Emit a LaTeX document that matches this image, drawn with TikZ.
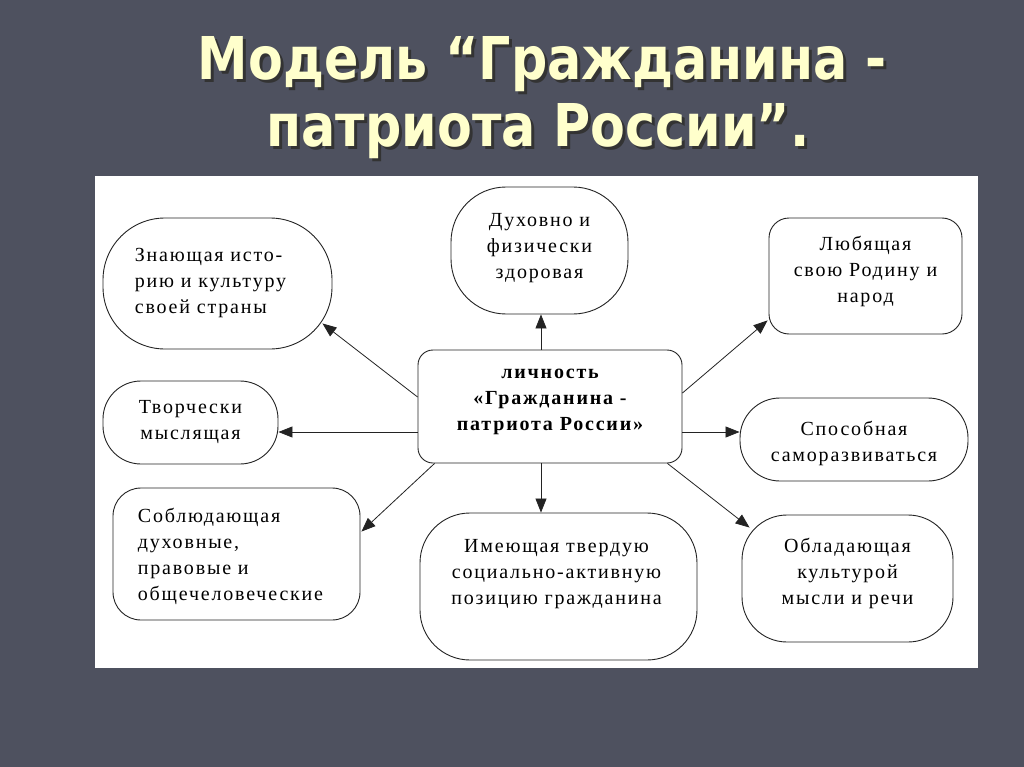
\documentclass[tikz,border=0pt]{standalone}
\usepackage{fontspec}
\setmainfont{Liberation Serif}
\newfontfamily\boxfont[LetterSpace=9]{Liberation Serif}
\newfontfamily\titlefont{DejaVu Sans}
\usetikzlibrary{arrows.meta}
\definecolor{bgcol}{RGB}{78,81,95}
\definecolor{ttlcol}{RGB}{255,255,204}
\definecolor{linecol}{RGB}{35,35,35}
\begin{document}
\begin{tikzpicture}[x=1pt,y=-1pt,
  shape box/.style={draw=linecol, line width=0.9pt, fill=white, rectangle, inner sep=0pt},
  txt/.style={font=\boxfont\fontsize{20}{26}\selectfont, align=center, inner sep=0pt, text=black},
  txtl/.style={txt, align=left},
  arr/.style={draw=linecol, line width=0.8pt, -{Triangle[length=14pt,width=11pt]}},
  ttl/.style={font=\titlefont\bfseries\fontsize{59}{67}\selectfont, inner sep=0pt, anchor=base}]
\useasboundingbox (0,0) rectangle (1024,767);
\fill[bgcol] (0,0) rectangle (1024,767);
\fill[white] (95,176) rectangle (978,668);
% title
\node[ttl, text=black!80] (t1s) at (545,83) {\scalebox{0.86}[1]{Модель “Гражданина -}};
\node[ttl, text=ttlcol] (t1) at (542,80) {\scalebox{0.86}[1]{Модель “Гражданина -}};
\node[ttl, text=black!80] (t2s) at (541,150) {\scalebox{0.86}[1]{патриота России”.}};
\node[ttl, text=ttlcol] (t2) at (538,147) {\scalebox{0.86}[1]{патриота России”.}};
% nodes
\node[shape box, minimum width=229pt, minimum height=131pt, rounded corners=62pt,
  label={[txtl, xshift=-7pt]center:{Знающая исто-\\рию и культуру\\своей страны}}] (n1) at (217.5,283.5) {};
\node[shape box, minimum width=177pt, minimum height=127pt, rounded corners=55pt,
  label={[txt, yshift=2pt]center:{Духовно и\\физически\\здоровая}}] (n2) at (539.5,250.5) {};
\node[shape box, minimum width=193pt, minimum height=116pt, rounded corners=20pt,
  label={[txt, yshift=5pt]center:{Любящая\\свою Родину и\\народ}}] (n3) at (865.5,276) {};
\node[shape box, minimum width=264pt, minimum height=113pt, rounded corners=15pt,
  label={[txt, font=\boxfont\bfseries\fontsize{20}{26}\selectfont, yshift=5pt]center:{личность\\«Гражданина -\\патриота России»}}] (c) at (550,406.5) {};
\node[shape box, minimum width=175pt, minimum height=83pt, rounded corners=38pt,
  label={[txt]center:{Творчески\\мыслящая}}] (n5) at (190.5,422.5) {};
\node[shape box, minimum width=228pt, minimum height=83pt, rounded corners=40pt,
  label={[txt, yshift=-4pt]center:{Способная\\саморазвиваться}}] (n6) at (854,439.5) {};
\node[shape box, minimum width=247pt, minimum height=132pt, rounded corners=28pt,
  label={[txtl, xshift=-6pt, yshift=-2pt]center:{Соблюдающая\\духовные,\\правовые и\\общечеловеческие}}] (n7) at (236.5,554) {};
\node[shape box, minimum width=277pt, minimum height=147pt, rounded corners=50pt,
  label={[txt, xshift=-2pt, yshift=12pt]center:{Имеющая твердую\\социально-активную\\позицию гражданина}}] (n8) at (558.5,586.5) {};
\node[shape box, minimum width=211pt, minimum height=127pt, rounded corners=45pt,
  label={[txt, yshift=5pt]center:{Обладающая\\культурой\\мысли и речи}}] (n9) at (847.5,578.5) {};
% connectors
\draw[arr] ([yshift=9.5pt]c.west) -- ([xshift=-10pt,yshift=26pt]n1.south east);
\draw[arr] ([xshift=-9pt]c.north) -- ([xshift=-9pt]c.north |- n2.south);
\draw[arr] ([yshift=13.5pt]c.east) -- ([xshift=-1pt,yshift=14pt]n3.south west);
\draw[arr] ([yshift=-25.5pt]c.west) -- ([yshift=-25.5pt]c.west -| n5.east);
\draw[arr] ([yshift=-25.5pt]c.east) -- ([yshift=-25.5pt]c.east -| n6.west);
\draw[arr] ([xshift=17pt]c.south west) -- ([xshift=1pt,yshift=-44pt]n7.north east);
\draw[arr] ([xshift=-9pt]c.south) -- ([xshift=-9pt]c.south |- n8.north);
\draw[arr] ([xshift=-15pt]c.south east) -- ([xshift=8pt,yshift=-13pt]n9.north west);
\end{tikzpicture}
\end{document}
